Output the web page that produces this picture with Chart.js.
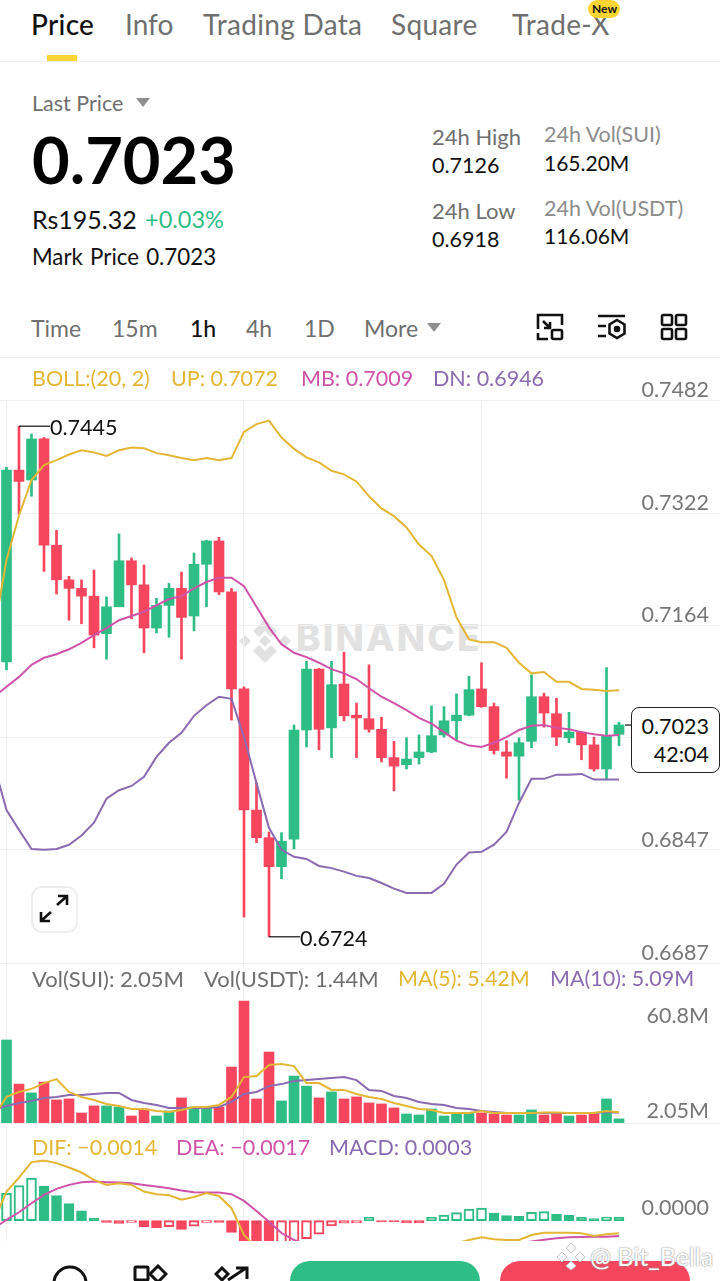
<!DOCTYPE html>
<html>
<head>
<meta charset="utf-8">
<title>SUI/USDT</title>
<script src="https://cdn.jsdelivr.net/npm/chart.js@4"></script>
<style>
html, body { margin: 0; padding: 0; background: #fff; }
#page { position: relative; width: 720px; height: 1281px; overflow: hidden; font-family: Lato, sans-serif; background: #fff; }
#page span, #page div.box, #page svg, #page canvas { position: absolute; }
#page span { white-space: nowrap; line-height: 1; }
.gray { color: #6f6f6f; }
.light { color: #8c8c8c; }
.black { color: #111; }
.hr { position: absolute; left: 0; width: 720px; height: 1px; background: #efefef; }
</style>
</head>
<body>
<div id="page">
  <!-- top tabs -->
  <span class="black" style="left:31px;top:10px;font-size:28px;font-weight:500;letter-spacing:.3px">Price</span>
  <span class="gray" style="left:125px;top:10px;font-size:28px">Info</span>
  <span class="gray" style="left:203px;top:10px;font-size:28px;letter-spacing:.3px">Trading Data</span>
  <span class="gray" style="left:391px;top:10px;font-size:28px;letter-spacing:.3px">Square</span>
  <span class="gray" style="left:512px;top:10px;font-size:28px;letter-spacing:.3px">Trade-X</span>
  <div class="box" style="left:588px;top:0;width:32px;height:18px;border-radius:9px;background:#fcd535"></div>
  <span class="black" style="left:592px;top:3px;font-size:12px;font-weight:700">New</span>
  <div class="box" style="left:47px;top:55px;width:30px;height:6px;background:#fcd535"></div>
  <div class="hr" style="top:61px"></div>

  <!-- price header -->
  <span class="gray" style="left:32px;top:93px;font-size:21.500px">Last Price</span>
  <svg style="left:136px;top:98px" width="14" height="9"><path d="M0 0H14L7 9Z" fill="#8f8f8f"/></svg>
  <span class="black" style="left:32px;top:127px;font-size:65px;font-weight:700;color:#000">0.7023</span>
  <span class="black" style="left:32px;top:207px;font-size:25px">Rs195.32</span>
  <span style="left:145px;top:208px;font-size:23.500px;color:#2ebd85">+0.03%</span>
  <span class="black" style="left:32px;top:246px;font-size:22.300px;word-spacing:1.5px">Mark Price 0.7023</span>
  <span class="gray" style="left:432px;top:126px;font-size:22px">24h High</span>
  <span class="black" style="left:432px;top:155px;font-size:21.500px">0.7126</span>
  <span class="gray" style="left:432px;top:200px;font-size:22px">24h Low</span>
  <span class="black" style="left:432px;top:229px;font-size:21.500px">0.6918</span>
  <span class="light" style="left:544px;top:124px;font-size:21.500px">24h Vol(SUI)</span>
  <span class="black" style="left:544px;top:152px;font-size:21px">165.20M</span>
  <span class="light" style="left:544px;top:198px;font-size:21.500px">24h Vol(USDT)</span>
  <span class="black" style="left:544px;top:225px;font-size:21px">116.06M</span>

  <!-- interval row -->
  <span class="gray" style="left:31px;top:317px;font-size:23px">Time</span>
  <span class="gray" style="left:112px;top:317px;font-size:23px">15m</span>
  <span class="black" style="left:190px;top:317px;font-size:23px;font-weight:500">1h</span>
  <span class="gray" style="left:246px;top:317px;font-size:23px">4h</span>
  <span class="gray" style="left:304px;top:317px;font-size:23px">1D</span>
  <span class="gray" style="left:364px;top:317px;font-size:23px">More</span>
  <svg style="left:427px;top:323px" width="14" height="9"><path d="M0 0H14L7 9Z" fill="#8f8f8f"/></svg>
  <svg style="left:536px;top:313px" width="28" height="28" fill="none" stroke="#111" stroke-width="2.6">
    <path d="M2 16V2H26V12M2 20V26H12"/><path d="M7 8L14 15M14 9V15H8"/><rect x="16" y="17" width="10" height="9" rx="1.5"/>
  </svg>
  <svg style="left:597px;top:313px" width="30" height="28" fill="none" stroke="#111" stroke-width="2.6">
    <path d="M1 3H28M1 13H9M1 23H9"/><path d="M20 7L27.500 11.500V20.500L20 25L12.500 20.500V11.500Z"/><circle cx="20" cy="16" r="2" fill="#111"/>
  </svg>
  <svg style="left:660px;top:313px" width="28" height="28" fill="none" stroke="#111" stroke-width="2.6">
    <rect x="2" y="2" width="10" height="10" rx="1.500"/><rect x="16" y="2" width="10" height="10" rx="1.500"/>
    <rect x="2" y="16" width="10" height="10" rx="1.500"/><rect x="16" y="16" width="10" height="10" rx="1.500"/>
  </svg>
  <div class="hr" style="top:357px"></div>

  <!-- watermark sits under the transparent canvas -->
  <svg style="left:238px;top:616px" width="54" height="50" fill="#e2e2e2">
    <path d="M27 3L39 15L33 21L27 15L21 21L15 15Z"/><path d="M7 19L13 25L7 31L1 25Z"/><path d="M47 19L53 25L47 31L41 25Z"/>
    <path d="M27 19L33 25L27 31L21 25Z"/><path d="M15 35L21 29L27 35L33 29L39 35L27 47Z"/>
  </svg>
  <span style="left:296px;top:619px;font-size:37px;font-weight:800;letter-spacing:2.2px;color:#e2e2e2;font-family:Inter,sans-serif">BINANCE</span>

  <canvas id="klineChart" width="720" height="607" style="left:0;top:358px"></canvas>
  <canvas id="volChart" width="720" height="161" style="left:0;top:963px"></canvas>
  <canvas id="macdChart" width="720" height="117" style="left:0;top:1124px"></canvas>
  <div class="hr" style="top:963px"></div>
  <div class="hr" style="top:1123px"></div>

  <!-- chart legends -->
  <span style="left:32px;top:368px;font-size:21.500px;color:#e3b635">BOLL:(20, 2)</span>
  <span style="left:171px;top:368px;font-size:21.500px;color:#e3b635">UP: 0.7072</span>
  <span style="left:301px;top:368px;font-size:21.500px;color:#d052a9">MB: 0.7009</span>
  <span style="left:433px;top:368px;font-size:21.500px;color:#8a6bb1">DN: 0.6946</span>
  <span class="gray" style="left:32px;top:968px;font-size:22px">Vol(SUI): 2.05M</span>
  <span class="gray" style="left:204px;top:968px;font-size:22px">Vol(USDT): 1.44M</span>
  <span style="left:398px;top:968px;font-size:21.500px;color:#e3b635">MA(5): 5.42M</span>
  <span style="left:550px;top:968px;font-size:21.500px;color:#8a6bb1">MA(10): 5.09M</span>
  <span style="left:32px;top:1137px;font-size:21.500px;color:#e3b635">DIF: −0.0014</span>
  <span style="left:176px;top:1137px;font-size:21.500px;color:#d052a9">DEA: −0.0017</span>
  <span style="left:329px;top:1137px;font-size:21.500px;color:#8a6bb1">MACD: 0.0003</span>

  <!-- last price box -->
  <div class="box" style="left:631px;top:707px;width:87px;height:64px;border:1px solid #222;border-radius:8px;background:#fff"></div>
  <span class="black" style="right:11px;top:716px;font-size:21.500px">0.7023</span>
  <span class="black" style="right:11px;top:744px;font-size:21.500px">42:04</span>

  <!-- expand button -->
  <div class="box" style="left:31px;top:886px;width:43px;height:43px;border:2px solid #eee;border-radius:11px;background:#fff"></div>
  <svg style="left:38px;top:893px" width="32" height="32" fill="none" stroke="#111" stroke-width="2.6">
    <path d="M4 27L13 19M19 12L28 4M20 3H29V12M3 19V28H12"/>
  </svg>

  <!-- bottom nav -->
  <div class="box" style="left:0;top:1241px;width:720px;height:40px;background:#fff"></div>
  <svg style="left:50px;top:1264px" width="40" height="17" fill="none" stroke="#111" stroke-width="3"><circle cx="20" cy="19" r="16"/></svg>
  <svg style="left:132px;top:1264px" width="36" height="17" fill="none" stroke="#111" stroke-width="3">
    <rect x="3" y="3" width="13" height="13" rx="1"/><path d="M26 2L34 10L26 18L18 10Z"/>
  </svg>
  <svg style="left:214px;top:1266px" width="36" height="15" fill="none" stroke="#111" stroke-width="3">
    <path d="M8 2L14 8L8 14L2 8Z"/><path d="M14 14L32 2M22 2H33V13"/>
  </svg>
  <div class="box" style="left:290px;top:1261px;width:190px;height:40px;border-radius:20px;background:#2ebd85"></div>
  <div class="box" style="left:500px;top:1261px;width:190px;height:40px;border-radius:20px;background:#f6465d"></div>
  <svg style="left:556px;top:1241px" width="30" height="30" fill="#fff" stroke="#c9c9c9" stroke-width="1">
    <path d="M15 2L20 7L15 12L10 7Z"/><path d="M6 11L11 16L6 21L1 16Z"/><path d="M24 11L29 16L24 21L19 16Z"/><path d="M15 20L20 25L15 29L10 25Z"/>
  </svg>
  <span style="left:590px;top:1244px;font-size:25px;color:#fff;text-shadow:0 0 2px #999,0 0 1px #999">@ Bit_Bella</span>
</div>

<script>
const highs = [0.7387,0.7445,0.7434,0.7429,0.7298,0.7233,0.7228,0.7242,0.7204,0.7293,0.7259,0.7249,0.7202,0.7223,0.7239,0.7266,0.7284,0.7288,0.7216,0.7077,0.6941,0.6872,0.6871,0.7023,0.7113,0.7103,0.7113,0.7126,0.7054,0.7108,0.7034,0.7000,0.7005,0.7009,0.7050,0.7049,0.7067,0.7092,0.7111,0.7054,0.7001,0.7005,0.7094,0.7068,0.7061,0.7041,0.7014,0.7006,0.7104,0.7027];
const lows = [0.7101,0.7321,0.7346,0.7240,0.7208,0.7171,0.7166,0.7132,0.7116,0.7190,0.7173,0.7125,0.7153,0.7147,0.7116,0.7156,0.7190,0.7207,0.7030,0.6752,0.6857,0.6724,0.6806,0.6848,0.6992,0.6988,0.6977,0.7029,0.6977,0.7013,0.6971,0.6930,0.6961,0.6968,0.6984,0.7006,0.7002,0.7036,0.7048,0.6982,0.6948,0.6917,0.6991,0.7020,0.6994,0.6998,0.6974,0.6958,0.6947,0.6994];
const opens = [0.7112,0.7383,0.7369,0.7427,0.7277,0.7228,0.7216,0.7205,0.7152,0.7190,0.7255,0.7221,0.7160,0.7192,0.7216,0.7177,0.7250,0.7283,0.7211,0.7074,0.6903,0.6864,0.6823,0.6862,0.7016,0.7102,0.7019,0.7081,0.7037,0.7032,0.7017,0.6977,0.6967,0.6977,0.6985,0.7009,0.7029,0.7037,0.7074,0.7049,0.6985,0.6979,0.7000,0.7063,0.7039,0.7005,0.7013,0.6995,0.6961,0.7010];
const closes = [0.7383,0.7367,0.7427,0.7277,0.7228,0.7216,0.7205,0.7150,0.7190,0.7255,0.7221,0.7160,0.7192,0.7216,0.7175,0.7250,0.7283,0.7211,0.7074,0.6903,0.6864,0.6823,0.6859,0.7016,0.7102,0.7017,0.7080,0.7036,0.7033,0.7017,0.6977,0.6965,0.6975,0.6985,0.7008,0.7029,0.7037,0.7073,0.7049,0.6987,0.6979,0.6998,0.7063,0.7040,0.7006,0.7013,0.6995,0.6961,0.7008,0.7023];
const volumes = [41.4,19.4,15.0,20.4,11.5,12.0,5.0,8.5,8.5,8.0,3.5,7.0,3.5,6.0,12.5,8.0,8.0,8.0,27.9,60.8,12.0,35.4,11.0,23.4,18.4,12.5,15.5,12.0,13.0,10.0,9.5,7.5,4.5,4.0,7.0,3.5,4.5,5.0,5.0,4.5,4.0,4.0,6.5,4.0,4.5,3.5,4.0,4.5,12.0,2.05];

// the indicator lists start one hour before the first candle, just off the left edge
const bollUp = [0.7156,0.7256,0.7319,0.7369,0.7390,0.7397,0.7405,0.7411,0.7408,0.7403,0.7411,0.7415,0.7414,0.7407,0.7404,0.7400,0.7397,0.7400,0.7397,0.7400,0.7437,0.7448,0.7453,0.7429,0.7413,0.7401,0.7394,0.7382,0.7377,0.7367,0.7346,0.7329,0.7318,0.7302,0.7278,0.7262,0.7228,0.7175,0.7144,0.7140,0.7140,0.7132,0.7111,0.7096,0.7098,0.7084,0.7084,0.7074,0.7073,0.7071,0.7072];
const bollMb = [0.7063,0.7077,0.7091,0.7108,0.7118,0.7123,0.7130,0.7139,0.7150,0.7160,0.7171,0.7177,0.7183,0.7192,0.7201,0.7205,0.7216,0.7225,0.7231,0.7231,0.7219,0.7190,0.7161,0.7137,0.7125,0.7119,0.7111,0.7102,0.7096,0.7088,0.7075,0.7063,0.7054,0.7044,0.7033,0.7025,0.7013,0.7001,0.6994,0.6992,0.6998,0.7006,0.7016,0.7022,0.7023,0.7019,0.7017,0.7013,0.7010,0.7008,0.7009];
const bollDn = [0.6967,0.6903,0.6875,0.6848,0.6847,0.6848,0.6854,0.6867,0.6885,0.6919,0.6931,0.6937,0.6950,0.6978,0.6998,0.7012,0.7036,0.7051,0.7063,0.7060,0.7006,0.6941,0.6878,0.6847,0.6837,0.6834,0.6824,0.6821,0.6816,0.6810,0.6807,0.6800,0.6792,0.6786,0.6786,0.6786,0.6799,0.6826,0.6843,0.6844,0.6854,0.6872,0.6913,0.6947,0.6947,0.6953,0.6953,0.6954,0.6946,0.6946,0.6946];
const ma5 = [3.5,13,15.5,17,19.9,21.9,15.5,13,11.5,9.5,8.5,7,7,6,5.5,6.5,8,8,9,13,22.9,23.4,28.9,29.4,28.4,19.9,19.9,16.5,16.5,14.5,13,12,10,8.5,7,6.5,5,5,5,6,5,5,5,5,5.2,5.2,5,5,5,6,5.42];
const ma10 = [6.5,8.5,10,11,12.5,13,14,14,14.5,15,15,11.5,10,9,7.5,7.5,7.5,7.5,8,10.5,14.5,15.5,18.4,19.4,20.9,21.4,21.9,22.4,22.9,21.4,16.5,16,13.5,12.5,10.5,9.5,9,7.5,7,6,5.5,5,5,5,5,5,5,5,5,5.5,5.09];
const dif = [0,0.00322,0.00477,0.00648,0.00666,0.00637,0.00588,0.00533,0.00452,0.00396,0.00415,0.00396,0.00322,0.00293,0.00282,0.00233,0.00263,0.00307,0.00274,0.00138,-0.00159,-0.0030,-0.0043,-0.0050,-0.0047,-0.0044,-0.0043,-0.0041,-0.0039,-0.0038,-0.0036,-0.0037,-0.0038,-0.0037,-0.0035,-0.0032,-0.0028,-0.0025,-0.00214,-0.00184,-0.00206,-0.00214,-0.00214,-0.00159,-0.00133,-0.00133,-0.00133,-0.0014,-0.0017,-0.00151,-0.0014];
const dea = [-0.0008,0.00008,0.00093,0.00193,0.00285,0.00352,0.00396,0.00426,0.00433,0.00426,0.00422,0.00415,0.00396,0.00377,0.0036,0.00333,0.00315,0.00311,0.00311,0.00293,0.00219,0.00108,-0.00011,-0.00137,-0.00214,-0.0026,-0.0030,-0.0033,-0.0034,-0.0035,-0.0035,-0.0035,-0.0036,-0.0036,-0.0036,-0.0035,-0.0034,-0.0033,-0.0031,-0.0030,-0.0028,-0.0027,-0.0026,-0.0023,-0.00211,-0.00195,-0.00184,-0.00181,-0.00178,-0.00178,-0.0017];
const macd = [0.0022,0.00304,0.00389,0.00471,0.00382,0.00278,0.00189,0.00108,0.00027,-0.0002,-0.0003,-0.0002,-0.00067,-0.00078,-0.00067,-0.00097,-0.0006,-0.0002,-0.0002,-0.00129,-0.0028,-0.0035,-0.0039,-0.0036,-0.0030,-0.0020,-0.0015,-0.00059,-0.00029,-0.00025,0.00038,-0.00015,-0.00015,-0.00025,-0.00025,0.00038,0.00063,0.00089,0.00127,0.00138,0.00085,0.00056,0.00049,0.00093,0.001,0.00074,0.00063,0.00041,0.00022,0.00041,0.0004];

const priceTicks = [0.7482, 0.7322, 0.7164, 0.7005, 0.6847, 0.6687];
const dayTicks = [0, 19, 38];
const volTickTop = [60.8];
const volTickLast = [2.05];
const macdTicks = [0];

const GREEN = "#2ebd85";
const RED = "#f6465d";
const YELLOW = "#e3b635";
const MAGENTA = "#d052a9";
const PURPLE = "#8a6bb1";
const AXIS_FONT = { family: "Lato, sans-serif", size: 21.5 };

const candleColors = closes.map((c, i) => c >= opens[i] ? GREEN : RED);

function lineSet(values, color) {
    return {
        type: "line",
        data: values.map((v, i) => ({ x: i - 1, y: v })),
        borderColor: color,
        borderWidth: 2,
        pointRadius: 0,
        tension: 0
    };
}

function xAxis() {
    // one candle is 12.5px wide, the first candle is centred at 6.5px
    return {
        type: "linear",
        min: -0.52,
        max: 57.08,
        offset: false,
        afterBuildTicks: scale => { scale.ticks = dayTicks.map(v => ({ value: v })); },
        ticks: { display: false },
        grid: { color: "#f0f0f0", drawTicks: false, offset: false },
        border: { display: false },
        afterFit: scale => { scale.height = 0; }
    };
}

function yAxis(min, max, tickValues, offset, digits, suffix, showGrid) {
    return {
        type: "linear",
        position: "right",
        min: min,
        max: max,
        afterBuildTicks: scale => { scale.ticks = tickValues.map(v => ({ value: v })); },
        ticks: {
            mirror: true,
            padding: -11,
            labelOffset: offset,
            color: "#777",
            font: AXIS_FONT,
            callback: v => v.toFixed(digits) + suffix
        },
        grid: { display: showGrid, color: "#f0f0f0", drawTicks: false },
        border: { display: false },
        afterFit: scale => {
            scale.width = 0;
            scale.paddingTop = 0;
            scale.paddingBottom = 0;
        }
    };
}

const baseOptions = padding => ({
    responsive: false,
    animation: false,
    events: [],
    layout: { padding: padding },
    plugins: { legend: { display: false }, tooltip: { enabled: false } }
});

// high and low markers plus the short stub next to the last price box
const markers = {
    id: "markers",
    afterDatasetsDraw(chart) {
        const { ctx, scales } = chart;
        const hi = highs.indexOf(Math.max(...highs));
        const lo = lows.indexOf(Math.min(...lows));
        ctx.save();
        ctx.strokeStyle = "#111";
        ctx.fillStyle = "#111";
        ctx.lineWidth = 1.2;
        ctx.font = "21.5px Lato, sans-serif";
        ctx.textBaseline = "middle";
        [[hi, highs[hi]], [lo, lows[lo]]].forEach(([i, price]) => {
            const x = scales.x.getPixelForValue(i);
            const y = scales.y.getPixelForValue(price);
            ctx.beginPath();
            ctx.moveTo(x, y);
            ctx.lineTo(x + 31, y);
            ctx.stroke();
            ctx.fillText(price.toFixed(4), x + 31, y + 2);
        });
        const lastX = scales.x.getPixelForValue(closes.length - 1) + 6;
        const lastY = scales.y.getPixelForValue(closes[closes.length - 1]);
        ctx.beginPath();
        ctx.moveTo(lastX, lastY);
        ctx.lineTo(lastX + 6, lastY);
        ctx.stroke();
        ctx.restore();
    }
};

new Chart(document.getElementById("klineChart"), {
    data: {
        datasets: [
            lineSet(bollUp, YELLOW),
            lineSet(bollMb, MAGENTA),
            lineSet(bollDn, PURPLE),
            {
                type: "bar",
                data: closes.map((c, i) => ({ x: i, y: [opens[i], c] })),
                backgroundColor: candleColors,
                barThickness: 10,
                grouped: false
            },
            {
                type: "bar",
                data: closes.map((c, i) => ({ x: i, y: [lows[i], highs[i]] })),
                backgroundColor: candleColors,
                barThickness: 2,
                grouped: false
            }
        ]
    },
    options: {
        ...baseOptions({ top: 42, bottom: 2 }),
        scales: {
            x: xAxis(),
            y: yAxis(0.6687, 0.7482, priceTicks, -10, 4, "", true)
        }
    },
    plugins: [markers]
});

new Chart(document.getElementById("volChart"), {
    data: {
        datasets: [
            lineSet(ma5, YELLOW),
            lineSet(ma10, PURPLE),
            {
                type: "bar",
                data: volumes.map((v, i) => ({ x: i, y: v })),
                backgroundColor: candleColors,
                barThickness: 10,
                grouped: false
            }
        ]
    },
    options: {
        ...baseOptions({ bottom: 1 }),
        scales: {
            x: xAxis(),
            y: yAxis(0, 79.8, volTickLast, -8, 2, "M", false),
            yTop: yAxis(0, 79.8, volTickTop, 15, 1, "M", false)
        }
    }
});

new Chart(document.getElementById("macdChart"), {
    data: {
        datasets: [
            lineSet(dif, YELLOW),
            lineSet(dea, MAGENTA),
            {
                type: "bar",
                data: macd.slice(1).map((v, i) => ({ x: i, y: v })),
                // rising histogram bars are hollow, falling ones solid
                backgroundColor: macd.slice(1).map((v, i) => v > macd[i] ? "rgba(255,255,255,0.9)" : (v >= 0 ? GREEN : RED)),
                borderColor: macd.slice(1).map(v => v >= 0 ? GREEN : RED),
                borderWidth: 2,
                borderSkipped: false,
                barThickness: 10,
                grouped: false
            }
        ]
    },
    options: {
        ...baseOptions(0),
        scales: {
            x: xAxis(),
            y: yAxis(-0.00225, 0.0107, macdTicks, -13, 4, "", false)
        }
    }
});
</script>
</body>
</html>
